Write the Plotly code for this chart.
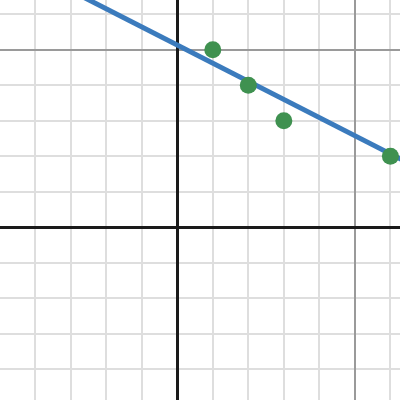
import plotly.graph_objects as go

# Data
point_x = [1, 2, 3, 6]
point_y = [5, 4, 3, 2]

# fitted line, endpoints
line_x = [-5.5, 6.8]
line_y = [7.94, 1.66]

x_range = [-4.99, 6.27]
y_range = [-4.865, 6.40]

fig = go.Figure()
fig.add_trace(go.Scatter(x=line_x, y=line_y, mode="lines",
                         line=dict(color="#3b7bbd", width=5), hoverinfo="skip"))
fig.add_trace(go.Scatter(x=point_x, y=point_y, mode="markers",
                         marker=dict(color="#3f9150", size=17, line=dict(width=0)),
                         hoverinfo="skip"))

axis_common = dict(
    showticklabels=False, ticks="", showline=False,
    dtick=5, tick0=0, showgrid=True, gridcolor="#9a9a9a", gridwidth=1.5,
    minor=dict(dtick=1, tick0=0, showgrid=True, gridcolor="#dedede", gridwidth=1.5),
    zeroline=True, zerolinecolor="#1a1a1a", zerolinewidth=3,
    fixedrange=True,
)
fig.update_layout(
    width=400, height=400, margin=dict(l=0, r=0, t=0, b=0),
    paper_bgcolor="white", plot_bgcolor="white", showlegend=False,
    xaxis=dict(range=x_range, **axis_common),
    yaxis=dict(range=y_range, **axis_common),
)
fig.write_html("out.html", config={"displayModeBar": False},
               post_script="document.body.style.margin='0';document.body.style.overflow='hidden';")
